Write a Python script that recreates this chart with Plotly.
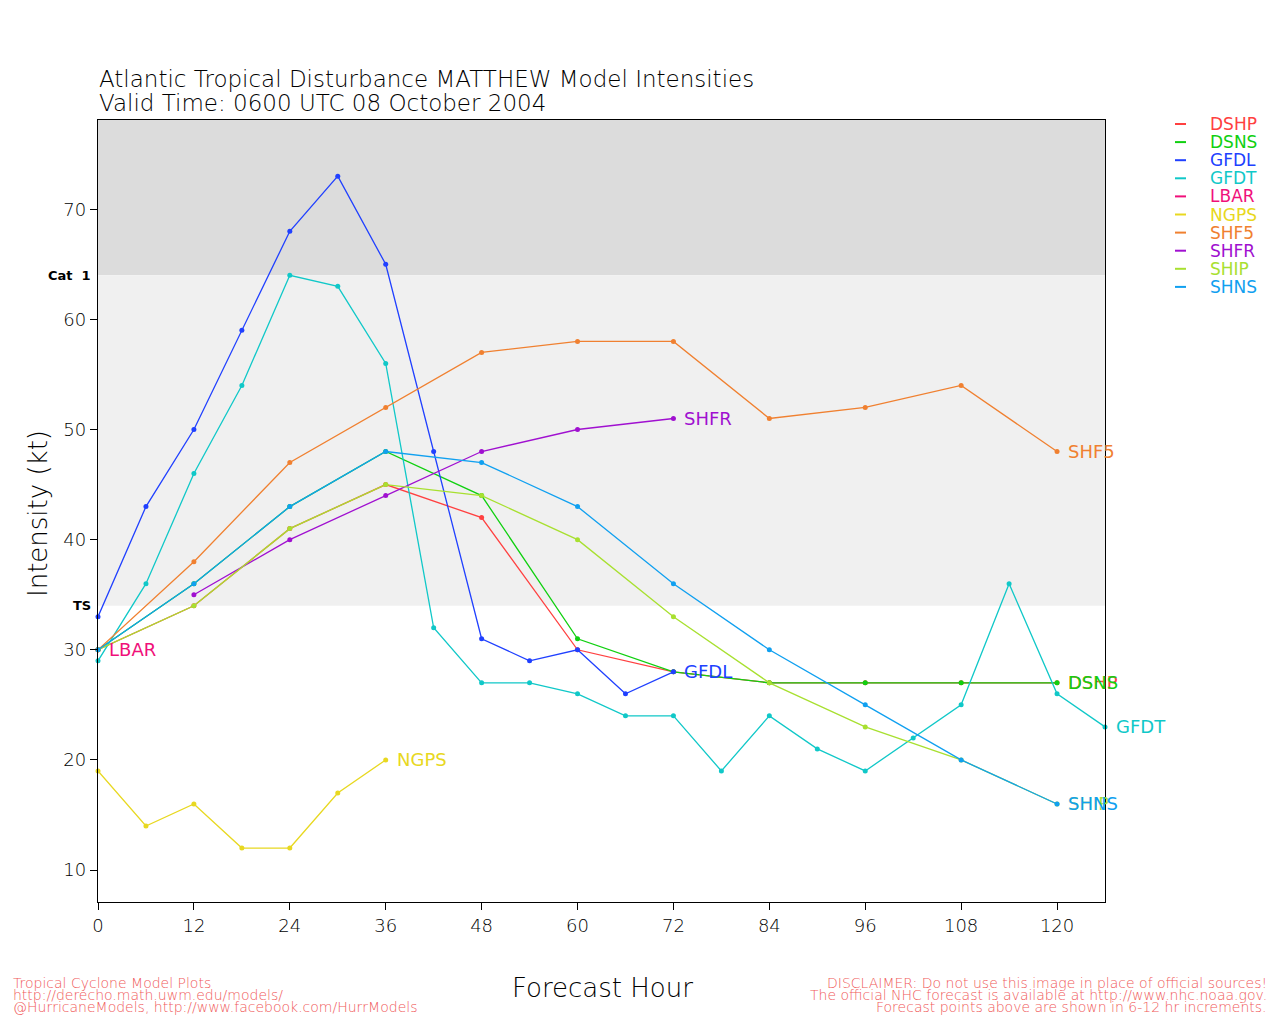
import plotly.graph_objects as go

# ---- data ----
models = ["DSHP", "DSNS", "GFDL", "GFDT", "LBAR", "NGPS", "SHF5", "SHFR", "SHIP", "SHNS"]
colors = {"DSHP": "#ff4040", "DSNS": "#10d010", "GFDL": "#2040ff", "GFDT": "#10c8c8",
          "LBAR": "#f0107a", "NGPS": "#e8d820", "SHF5": "#f08030", "SHFR": "#a010d0",
          "SHIP": "#a8e030", "SHNS": "#10a0f0"}

dshp_hr = [0, 12, 24, 36, 48, 60, 72, 84, 96, 108, 120]
dshp_kt = [30, 34, 41, 45, 42, 30, 28, 27, 27, 27, 27]
dsns_hr = [0, 12, 24, 36, 48, 60, 72, 84, 96, 108, 120]
dsns_kt = [30, 36, 43, 48, 44, 31, 28, 27, 27, 27, 27]
gfdl_hr = [0, 6, 12, 18, 24, 30, 36, 42, 48, 54, 60, 66, 72]
gfdl_kt = [33, 43, 50, 59, 68, 73, 65, 48, 31, 29, 30, 26, 28]
gfdt_hr = [0, 6, 12, 18, 24, 30, 36, 42, 48, 54, 60, 66, 72, 78, 84, 90, 96, 102, 108, 114, 120, 126]
gfdt_kt = [29, 36, 46, 54, 64, 63, 56, 32, 27, 27, 26, 24, 24, 19, 24, 21, 19, 22, 25, 36, 26, 23]
lbar_hr = [0]
lbar_kt = [30]
ngps_hr = [0, 6, 12, 18, 24, 30, 36]
ngps_kt = [19, 14, 16, 12, 12, 17, 20]
shf5_hr = [0, 12, 24, 36, 48, 60, 72, 84, 96, 108, 120]
shf5_kt = [30, 38, 47, 52, 57, 58, 58, 51, 52, 54, 48]
shfr_hr = [12, 24, 36, 48, 60, 72]
shfr_kt = [35, 40, 44, 48, 50, 51]
ship_hr = [0, 12, 24, 36, 48, 60, 72, 84, 96, 108, 120]
ship_kt = [30, 34, 41, 45, 44, 40, 33, 27, 23, 20, 16]
shns_hr = [0, 12, 24, 36, 48, 60, 72, 84, 96, 108, 120]
shns_kt = [30, 36, 43, 48, 47, 43, 36, 30, 25, 20, 16]

series = {"DSHP": (dshp_hr, dshp_kt), "DSNS": (dsns_hr, dsns_kt), "GFDL": (gfdl_hr, gfdl_kt),
          "GFDT": (gfdt_hr, gfdt_kt), "LBAR": (lbar_hr, lbar_kt), "NGPS": (ngps_hr, ngps_kt),
          "SHF5": (shf5_hr, shf5_kt), "SHFR": (shfr_hr, shfr_kt), "SHIP": (ship_hr, ship_kt),
          "SHNS": (shns_hr, shns_kt)}

x_ticks = [0, 12, 24, 36, 48, 60, 72, 84, 96, 108, 120]
y_ticks = [10, 20, 30, 40, 50, 60, 70]
thresholds = {"TS": 34, "Cat\u00a0 1": 64}

FONT = "DejaVu Sans"
fig = go.Figure()

for m in models:
    hx, ky = series[m]
    fig.add_trace(go.Scatter(x=hx, y=ky, mode="lines+markers", name=m,
                             line=dict(color=colors[m], width=1.3),
                             marker=dict(color=colors[m], size=5), showlegend=False,
                             cliponaxis=False))

annotations = []
for m in models:
    hx, ky = series[m]
    annotations.append(dict(x=hx[-1], y=ky[-1], xref="x", yref="y", text=m, showarrow=False,
                            xanchor="left", yanchor="middle", xshift=9,
                            font=dict(family=FONT, size=18, color=colors[m])))

# pixel helpers
L, R, T, B = 98, 175, 120, 122
pw, ph = 1280 - L - R, 1024 - T - B
def px(x):
    return (x - L) / pw
def py(y):
    return (1024 - y - B) / ph

shapes = [
    dict(type="rect", xref="paper", yref="y", x0=0, x1=1, y0=64, y1=78.1,
         fillcolor="#dcdcdc", line=dict(width=0), layer="below"),
    dict(type="rect", xref="paper", yref="y", x0=0, x1=1, y0=34, y1=64,
         fillcolor="#f0f0f0", line=dict(width=0), layer="below"),
]

# legend as shapes + annotations
for i, m in enumerate(models):
    yp = 124 + i * 18.1
    shapes.append(dict(type="line", xref="paper", yref="paper", x0=px(1175), x1=px(1186),
                       y0=py(yp), y1=py(yp), line=dict(color=colors[m], width=2)))
    annotations.append(dict(x=px(1208), y=py(yp), xref="paper", yref="paper", text=m,
                            showarrow=False, xanchor="left", yanchor="middle",
                            font=dict(family=FONT, size=17, color=colors[m])))

# threshold labels
for name, val in thresholds.items():
    annotations.append(dict(x=0, y=val, xref="paper", yref="y", text="<b>%s</b>" % name,
                            showarrow=False, xanchor="right", yanchor="middle", xshift=-5,
                            font=dict(family=FONT, size=13, color="black")))

# axis titles
annotations.append(dict(x=px(602), y=py(988), xref="paper", yref="paper", text="Forecast Hour",
                        showarrow=False, xanchor="center", yanchor="middle",
                        font=dict(family=FONT, size=26, color="black", weight=300)))
annotations.append(dict(x=px(38), y=py(514), xref="paper", yref="paper", text="Intensity (kt)",
                        showarrow=False, xanchor="center", yanchor="middle", textangle=-90,
                        font=dict(family=FONT, size=26, color="black", weight=300)))

# title
annotations.append(dict(x=px(97), y=py(79), xref="paper", yref="paper",
                        text="Atlantic Tropical Disturbance MATTHEW Model Intensities",
                        showarrow=False, xanchor="left", yanchor="middle",
                        font=dict(family=FONT, size=23, color="black", weight=300)))
annotations.append(dict(x=px(97), y=py(103), xref="paper", yref="paper",
                        text="Valid Time: 0600 UTC 08 October 2004",
                        showarrow=False, xanchor="left", yanchor="middle",
                        font=dict(family=FONT, size=23, color="black", weight=300)))

# footers
left_lines = ["Tropical Cyclone Model Plots", "http://derecho.math.uwm.edu/models/",
              "@HurricaneModels, http://www.facebook.com/HurrModels"]
right_lines = ["DISCLAIMER: Do not use this image in place of official sources!",
               "The official NHC forecast is available at http://www.nhc.noaa.gov.",
               "Forecast points above are shown in 6-12 hr increments."]
for i, t in enumerate(left_lines):
    annotations.append(dict(x=px(11), y=py(983 + 12 * i), xref="paper", yref="paper", text=t,
                            showarrow=False, xanchor="left", yanchor="middle",
                            font=dict(family=FONT, size=14, color="#f05a5a", weight=300)))
for i, t in enumerate(right_lines):
    annotations.append(dict(x=px(1269), y=py(983 + 12 * i), xref="paper", yref="paper", text=t,
                            showarrow=False, xanchor="right", yanchor="middle",
                            font=dict(family=FONT, size=14, color="#f05a5a", weight=300)))

fig.update_layout(
    width=1280, height=1024, margin=dict(l=L, r=R, t=T, b=B),
    paper_bgcolor="white", plot_bgcolor="white",
    font=dict(family=FONT, color="#222"),
    annotations=annotations, shapes=shapes,
    xaxis=dict(range=[0, 126], tickvals=x_ticks, ticks="outside", ticklen=7, tickcolor="black",
               showgrid=False, zeroline=False, showline=True, linecolor="black", linewidth=1.3,
               mirror=True, tickfont=dict(family=FONT, size=18, color="#000", weight=300)),
    yaxis=dict(range=[7.1, 78.1], tickvals=y_ticks, ticks="outside", ticklen=7, tickcolor="black",
               showgrid=False, zeroline=False, showline=True, linecolor="black", linewidth=1.3,
               mirror=True, tickfont=dict(family=FONT, size=18, color="#000", weight=300)),
)

fig.write_html("out.html")
